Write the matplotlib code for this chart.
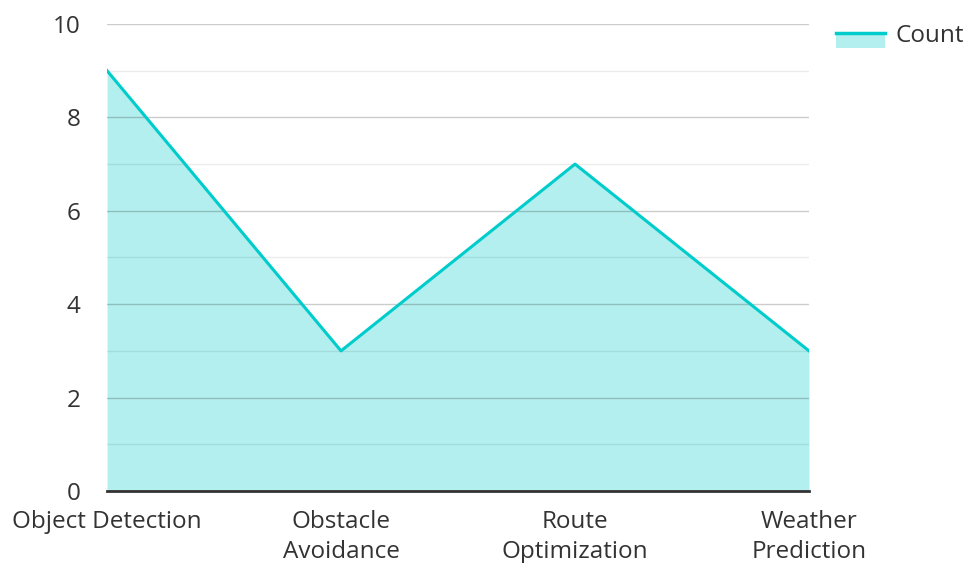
import matplotlib
matplotlib.use("Agg")
from matplotlib import pyplot as plt
from matplotlib.legend_handler import HandlerBase
from matplotlib.patches import Rectangle
from matplotlib.lines import Line2D

plt.rcParams["font.family"] = ["Open Sans", "DejaVu Sans"]

# 数据
categories = ["Object Detection", "Obstacle\nAvoidance", "Route\nOptimization", "Weather\nPrediction"]
counts = [9, 3, 7, 3]
series_name = "Count"

line_color = "#00CCCC"
fill_color = "#B2EFEE"


# 图例：填充块上方叠一条线
class AreaHandler(HandlerBase):
    def create_artists(self, legend, orig_handle, xdescent, ydescent,
                       width, height, fontsize, trans):
        y0 = -ydescent - height * 0.35
        h = height * 0.85
        rect = Rectangle((-xdescent, y0), width, h, facecolor=fill_color,
                         edgecolor="none", transform=trans)
        ln = Line2D([-xdescent, -xdescent + width], [y0 + h, y0 + h],
                    color=line_color, linewidth=2.5, transform=trans)
        return [rect, ln]


fig = plt.figure(figsize=(9.67, 5.63), dpi=100)
ax = fig.add_axes([0.1107, 0.1279, 0.7259, 0.8295])

x = list(range(len(categories)))
ax.fill_between(x, counts, 0, color=fill_color, linewidth=0, zorder=1)
ax.plot(x, counts, color=line_color, linewidth=2.2, zorder=3)

ax.set_xlim(0, len(categories) - 1)
ax.set_ylim(0, 10)
ax.set_yticks(range(0, 11, 2))
ax.set_yticks(range(1, 10, 2), minor=True)
ax.set_xticks(x)
ax.set_xticklabels(categories)

ax.grid(axis="y", which="major", color="black", alpha=0.2, linewidth=1, zorder=2)
ax.grid(axis="y", which="minor", color="black", alpha=0.08, linewidth=1, zorder=2)
ax.set_axisbelow(False)

for side in ["top", "right", "left"]:
    ax.spines[side].set_visible(False)
ax.spines["bottom"].set_color("#333333")
ax.spines["bottom"].set_linewidth(2)
ax.spines["bottom"].set_zorder(4)

ax.tick_params(axis="y", which="both", length=0, pad=19, labelsize=17.5, labelcolor="#333333")
ax.tick_params(axis="x", length=0, pad=14, labelsize=17.5, labelcolor="#333333")
for lab in ax.get_xticklabels():
    lab.set_linespacing(1.3)

handle = Rectangle((0, 0), 1, 1)
fig.legend([handle], [series_name], handler_map={Rectangle: AreaHandler()},
           loc="upper right", bbox_to_anchor=(1.02, 0.997), frameon=False,
           fontsize=17.5, handlelength=2.0, handletextpad=0.45, labelcolor="#333333")

fig.savefig("out.png", dpi=100)
